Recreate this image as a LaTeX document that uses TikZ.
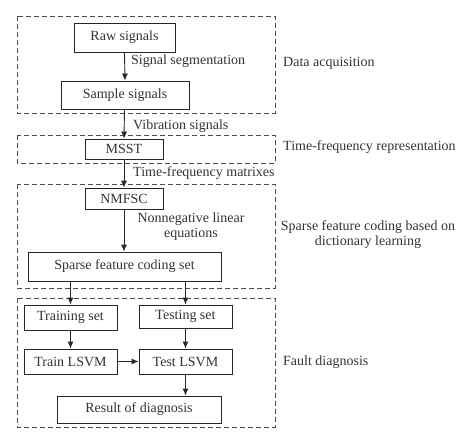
\documentclass[tikz,border=0pt]{standalone}
\usepackage{fontspec}
\setmainfont{Liberation Serif}
\usetikzlibrary{arrows.meta}
\begin{document}
\begin{tikzpicture}[x=1pt,y=-1pt,
  font=\fontsize{14}{16}\selectfont,
  blk/.style={draw, line width=0.9pt, inner sep=0pt, draw=black!85},
  grp/.style={draw, line width=0.9pt, dash pattern=on 5pt off 3pt, black!70},
  arr/.style={-{Latex[length=7pt,width=6pt]}, line width=0.9pt, black!85},
  lab/.style={anchor=west, inner sep=0pt, text=black!80},
  side/.style={anchor=west, inner sep=0pt, align=center, text=black!80}]
\useasboundingbox (0,0) rectangle (474,444);
% group boxes
\draw[grp] (17,16) rectangle (275,113);
\draw[grp] (17,135) rectangle (275,163);
\draw[grp] (17,184) rectangle (275,288);
\draw[grp] (17,298) rectangle (275,427);
% blocks
\node[blk, text=black!80, minimum width=101pt, minimum height=29pt] (raw) at (124.5,37.5) {Raw signals};
\node[blk, text=black!80, minimum width=128pt, minimum height=28pt] (sample) at (125,95) {Sample signals};
\node[blk, text=black!80, minimum width=78pt, minimum height=20pt] (msst) at (124,149) {MSST};
\node[blk, text=black!80, minimum width=78pt, minimum height=21pt] (nmfsc) at (124,198.5) {NMFSC};
\node[blk, text=black!80, minimum width=193pt, minimum height=29pt] (sparse) at (124.5,266.5) {Sparse feature coding set};
\node[blk, text=black!80, minimum width=93pt, minimum height=25pt] (train) at (70.5,317.5) {Training set};
\node[blk, text=black!80, minimum width=93pt, minimum height=23pt] (test) at (185.5,316.5) {Testing set};
\node[blk, text=black!80, minimum width=93pt, minimum height=25pt] (tlsvm) at (70.5,361.5) {Train LSVM};
\node[blk, text=black!80, minimum width=93pt, minimum height=25pt] (telsvm) at (185.5,361.5) {Test LSVM};
\node[blk, text=black!80, minimum width=164pt, minimum height=27pt] (res) at (139,409.5) {Result of diagnosis};
% connectors
\draw[arr] (raw.south) -- (sample.north);
\draw[arr] (sample.south -| raw.south) -- (msst.north);
\draw[arr] (msst.south) -- (nmfsc.north);
\draw[arr] (nmfsc.south) -- (sparse.north -| nmfsc.south);
\draw[arr] (sparse.south -| train.north) -- (train.north);
\draw[arr] (sparse.south -| test.north) -- (test.north);
\draw[arr] (train.south) -- (tlsvm.north);
\draw[arr] (test.south) -- (telsvm.north);
\draw[arr] (tlsvm.east) -- (telsvm.west);
\draw[arr] (telsvm.south) -- (res.north -| telsvm.south);
% connector labels
\node[lab] (l1) at (131,61) {Signal segmentation};
\node[lab] (l2) at (133,126) {Vibration signals};
\node[lab] (l3) at (133,173) {Time-frequency matrixes};
\node[align=center, inner sep=0pt, text=black!80] (l4) at (191,227) {Nonnegative linear\\[-1pt]equations};
% side labels
\node[side] (s1) at (283,63) {Data acquisition};
\node[side] (s2) at (283,147) {Time-frequency representation};
\node[align=center, inner sep=0pt, text=black!80] (s3) at (368,235) {Sparse feature coding based on\\[-1pt]dictionary learning};
\node[side] (s4) at (283,362) {Fault diagnosis};
\end{tikzpicture}
\end{document}
